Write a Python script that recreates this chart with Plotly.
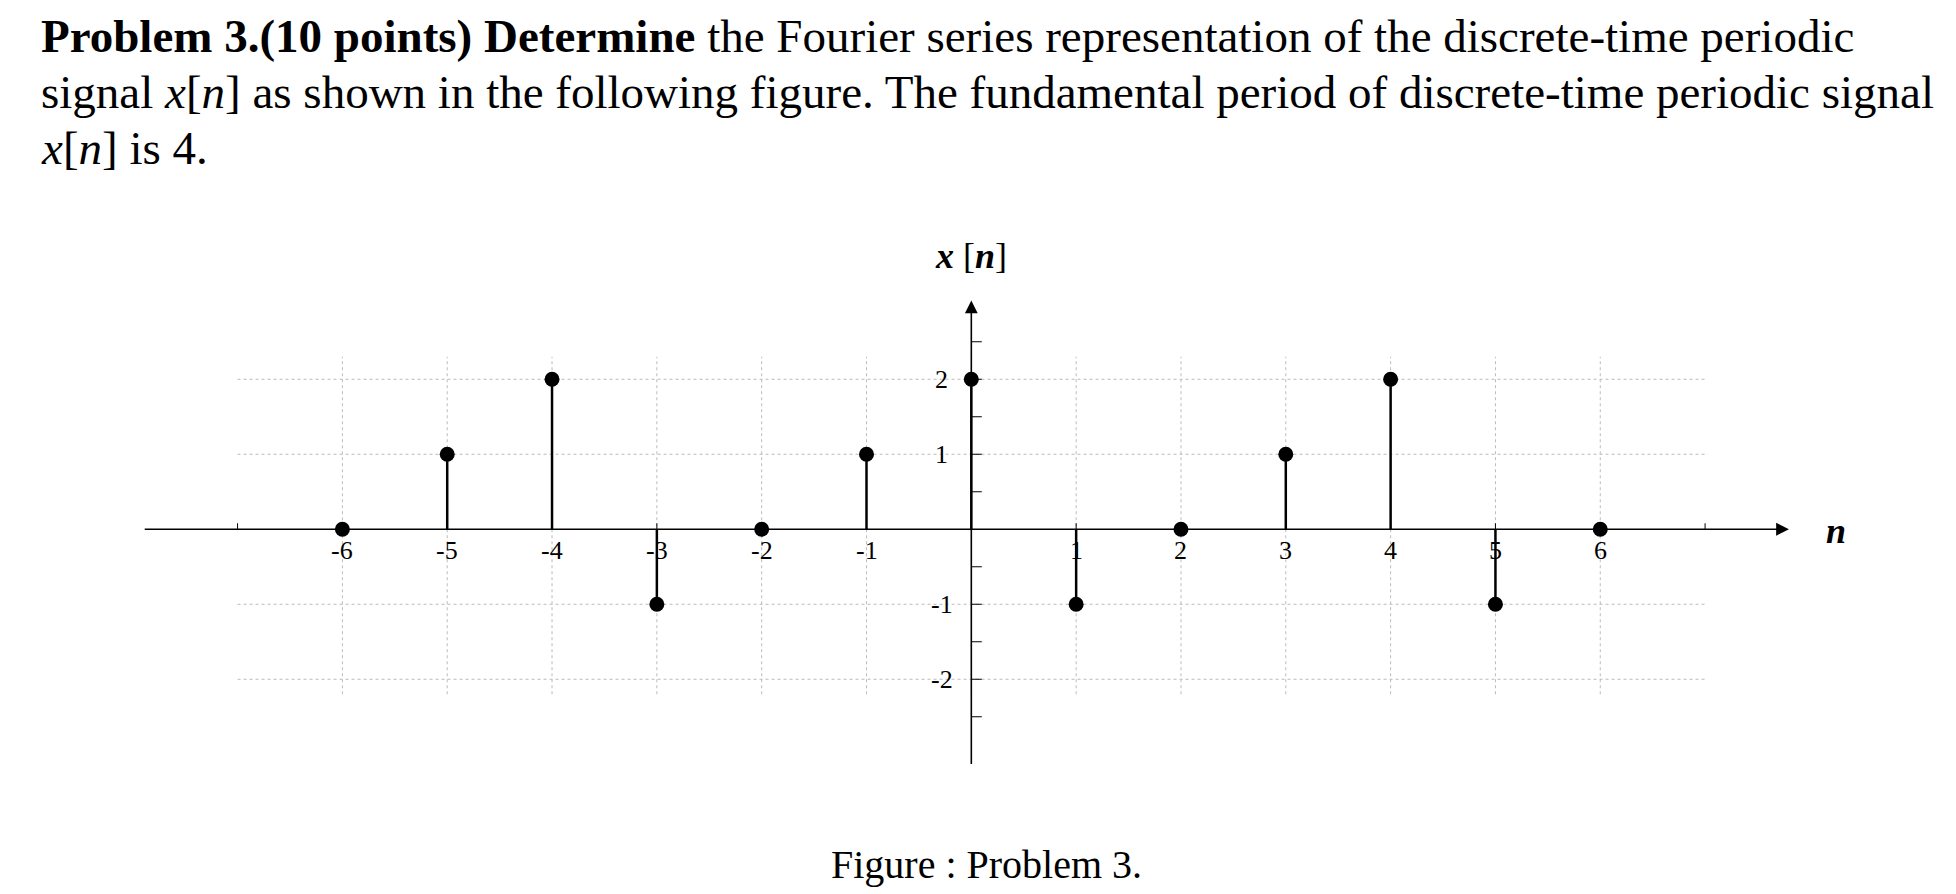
import plotly.graph_objects as go

n = list(range(-6, 7))
x_n = [0, 1, 2, -1, 0, 1, 2, -1, 0, 1, 2, -1, 0]
x_ticks = [-6, -5, -4, -3, -2, -1, 1, 2, 3, 4, 5, 6]
y_ticks = [2, 1, -1, -2]
grid_x = list(range(-6, 7))
grid_y = [-2, -1, 1, 2]

SERIF = "Liberation Serif"
fig = go.Figure()

# dotted grid
gx, gy = [], []
for v in grid_x:
    gx += [v, v, None]; gy += [-2.2, 2.3, None]
for v in grid_y:
    gx += [-7, 7, None]; gy += [v, v, None]
fig.add_trace(go.Scatter(x=gx, y=gy, mode="lines",
                         line=dict(color="#bbbbbb", width=1, dash="dot"), hoverinfo="skip"))

# tick marks
tx, ty = [], []
for v in range(-7, 8):
    if v: tx += [v, v, None]; ty += [0, 0.08, None]
for v in [-2.5, -2, -1.5, -1, -0.5, 0.5, 1, 1.5, 2, 2.5]:
    tx += [0, 0.1, None]; ty += [v, v, None]
fig.add_trace(go.Scatter(x=tx, y=ty, mode="lines", line=dict(color="black", width=1), hoverinfo="skip"))

# stems
sx, sy = [], []
for a, b in zip(n, x_n):
    sx += [a, a, None]; sy += [0, b, None]
fig.add_trace(go.Scatter(x=sx, y=sy, mode="lines", line=dict(color="black", width=2.5), hoverinfo="skip"))
fig.add_trace(go.Scatter(x=n, y=x_n, mode="markers",
                         marker=dict(color="black", size=15, symbol="circle"), hoverinfo="skip"))

ann = []
# axes with arrows
ann.append(dict(x=7.8, y=0, ax=-7.9, ay=0, xref="x", yref="y", axref="x", ayref="y",
                showarrow=True, arrowhead=2, arrowsize=1.6, arrowwidth=1.6, arrowcolor="black", text=""))
ann.append(dict(x=0, y=3.05, ax=0, ay=-3.15, xref="x", yref="y", axref="x", ayref="y",
                showarrow=True, arrowhead=2, arrowsize=1.6, arrowwidth=1.6, arrowcolor="black", text=""))
for v in x_ticks:
    ann.append(dict(x=v, y=-0.28, text=str(v), showarrow=False, font=dict(family=SERIF, size=26)))
for v in y_ticks:
    ann.append(dict(x=-0.28, y=v, text=str(v), showarrow=False, font=dict(family=SERIF, size=26)))
ann.append(dict(x=0, y=3.65, text="<i><b>x</b></i> [<i><b>n</b></i>]", showarrow=False,
                font=dict(family=SERIF, size=36)))
ann.append(dict(x=8.25, y=-0.02, text="<i><b>n</b></i>", showarrow=False, font=dict(family=SERIF, size=36)))
ann.append(dict(x=0.14, y=-4.47, text="Figure : Problem 3.", showarrow=False,
                font=dict(family=SERIF, size=40)))

lines = [
    "<b>Problem 3.</b><b>(10 points)</b> <b>Determine</b> the Fourier series representation of the discrete-time periodic",
    "signal <i>x</i>[<i>n</i>] as shown in the following figure. The fundamental period of discrete-time periodic signal",
    "<i>x</i>[<i>n</i>] is 4.",
]
for i, t in enumerate(lines):
    ann.append(dict(x=0.016, y=1 - (22 + 45 * i) / 715, xref="paper", yref="paper", text=t,
                    showarrow=False, xanchor="left", yanchor="middle",
                    font=dict(family=SERIF, size=47)))

fig.update_layout(
    width=1956, height=894, margin=dict(l=0, r=0, t=0, b=0),
    plot_bgcolor="white", paper_bgcolor="white", showlegend=False,
    font=dict(color="black"),
    xaxis=dict(range=[-9.19, 9.47], visible=False, fixedrange=True),
    yaxis=dict(range=[-4.97, 6.95], visible=False, fixedrange=True),
    annotations=ann,
)
fig.write_html("out.html")
